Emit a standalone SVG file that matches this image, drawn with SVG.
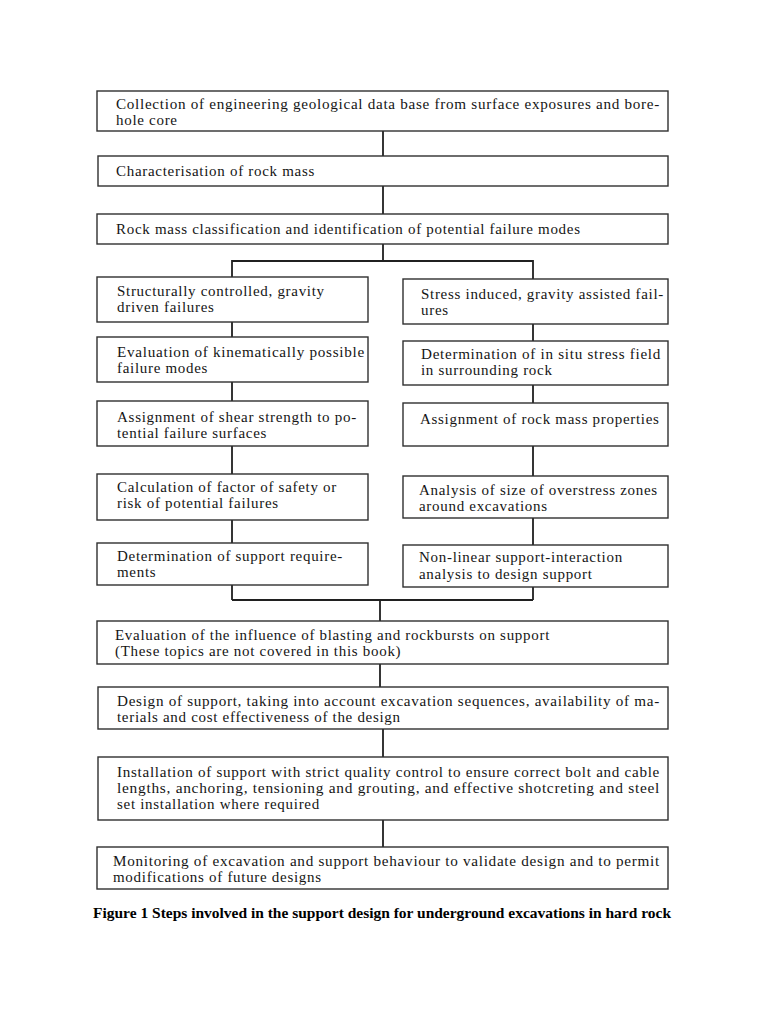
<svg xmlns="http://www.w3.org/2000/svg" width="768" height="1024" viewBox="0 0 768 1024">
<style>
  .box { fill: #ffffff; stroke: #303030; stroke-width: 1.4; }
  .t { font-family: "Liberation Serif", "Times New Roman", serif; font-size: 15px; fill: #151515; letter-spacing: 0.7px; }
  .conn { fill: none; stroke: #202020; stroke-width: 1.8; }
  .cap { font-family: "Liberation Serif", "Times New Roman", serif; font-size: 15.5px; font-weight: bold; fill: #000000; }
</style>
<rect width="768" height="1024" fill="#ffffff"/>
<g id="connectors">
  <path class="conn" d="M383 131 V156"/>
  <path class="conn" d="M383 186 V214"/>
  <path class="conn" d="M383 244 V261 M232 261 H533 M232 260 V277 M533 260 V279"/>
  <path class="conn" d="M232 322 V337 M533 324 V341"/>
  <path class="conn" d="M232 382 V401 M533 385 V403"/>
  <path class="conn" d="M232 446 V474 M533 446 V476"/>
  <path class="conn" d="M232 520 V543 M533 518 V545"/>
  <path class="conn" d="M232 585 V600 M533 587 V600 M232 600 H533 M380 600 V621"/>
  <path class="conn" d="M380 664 V687"/>
  <path class="conn" d="M383 729 V757"/>
  <path class="conn" d="M383 820 V847"/>
</g>
<g id="n1">
  <rect class="box" x="97" y="91" width="571" height="40"/>
  <text class="t" x="116" y="109" textLength="544" lengthAdjust="spacingAndGlyphs">Collection of engineering geological data base from surface exposures and bore-</text>
  <text class="t" x="116" y="125">hole core</text>
</g>
<g id="n2">
  <rect class="box" x="98" y="156" width="570" height="30"/>
  <text class="t" x="116" y="176">Characterisation of rock mass</text>
</g>
<g id="n3">
  <rect class="box" x="97" y="214" width="571" height="30"/>
  <text class="t" x="116" y="234">Rock mass classification and identification of potential failure modes</text>
</g>
<g id="a1">
  <rect class="box" x="97" y="277" width="271" height="45"/>
  <text class="t" x="117" y="296">Structurally controlled, gravity</text>
  <text class="t" x="117" y="312">driven failures</text>
</g>
<g id="b1">
  <rect class="box" x="403" y="279" width="265" height="45"/>
  <text class="t" x="421" y="299" textLength="243" lengthAdjust="spacingAndGlyphs">Stress induced, gravity assisted fail-</text>
  <text class="t" x="421" y="315">ures</text>
</g>
<g id="a2">
  <rect class="box" x="97" y="337" width="271" height="45"/>
  <text class="t" x="117" y="357" textLength="248" lengthAdjust="spacingAndGlyphs">Evaluation of kinematically possible</text>
  <text class="t" x="117" y="373">failure modes</text>
</g>
<g id="b2">
  <rect class="box" x="403" y="341" width="265" height="44"/>
  <text class="t" x="421" y="359" textLength="240" lengthAdjust="spacingAndGlyphs">Determination of in situ stress field</text>
  <text class="t" x="421" y="375">in surrounding rock</text>
</g>
<g id="a3">
  <rect class="box" x="97" y="401" width="271" height="45"/>
  <text class="t" x="117" y="422" textLength="240" lengthAdjust="spacingAndGlyphs">Assignment of shear strength to po-</text>
  <text class="t" x="117" y="438">tential failure surfaces</text>
</g>
<g id="b3">
  <rect class="box" x="403" y="403" width="265" height="43"/>
  <text class="t" x="420" y="424">Assignment of rock mass properties</text>
</g>
<g id="a4">
  <rect class="box" x="97" y="474" width="271" height="46"/>
  <text class="t" x="117" y="492">Calculation of factor of safety or</text>
  <text class="t" x="117" y="508">risk of potential failures</text>
</g>
<g id="b4">
  <rect class="box" x="403" y="476" width="265" height="42"/>
  <text class="t" x="419" y="495">Analysis of size of overstress zones</text>
  <text class="t" x="419" y="511">around excavations</text>
</g>
<g id="a5">
  <rect class="box" x="97" y="543" width="271" height="42"/>
  <text class="t" x="117" y="561">Determination of support require-</text>
  <text class="t" x="117" y="577">ments</text>
</g>
<g id="b5">
  <rect class="box" x="403" y="545" width="265" height="42"/>
  <text class="t" x="419" y="562">Non-linear support-interaction</text>
  <text class="t" x="419" y="579">analysis to design support</text>
</g>
<g id="n4">
  <rect class="box" x="97" y="621" width="571" height="43"/>
  <text class="t" x="115" y="640">Evaluation of the influence of blasting and rockbursts on support</text>
  <text class="t" x="115" y="656">(These topics are not covered in this book)</text>
</g>
<g id="n5">
  <rect class="box" x="98" y="687" width="570" height="42"/>
  <text class="t" x="117" y="706" textLength="543" lengthAdjust="spacingAndGlyphs">Design of support, taking into account excavation sequences, availability of ma-</text>
  <text class="t" x="117" y="722">terials and cost effectiveness of the design</text>
</g>
<g id="n6">
  <rect class="box" x="98" y="757" width="570" height="63"/>
  <text class="t" x="117" y="777" textLength="543" lengthAdjust="spacingAndGlyphs">Installation of support with strict quality control to ensure correct bolt and cable</text>
  <text class="t" x="117" y="793" textLength="543" lengthAdjust="spacingAndGlyphs">lengths, anchoring, tensioning and grouting, and effective shotcreting and steel</text>
  <text class="t" x="117" y="809">set installation where required</text>
</g>
<g id="n7">
  <rect class="box" x="97" y="847" width="571" height="42"/>
  <text class="t" x="113" y="866" textLength="547" lengthAdjust="spacingAndGlyphs">Monitoring of excavation and support behaviour to validate design and to permit</text>
  <text class="t" x="113" y="882">modifications of future designs</text>
</g>
<text class="cap" x="93" y="918" textLength="578" lengthAdjust="spacingAndGlyphs">Figure 1 Steps involved in the support design for underground excavations in hard rock</text>
</svg>
